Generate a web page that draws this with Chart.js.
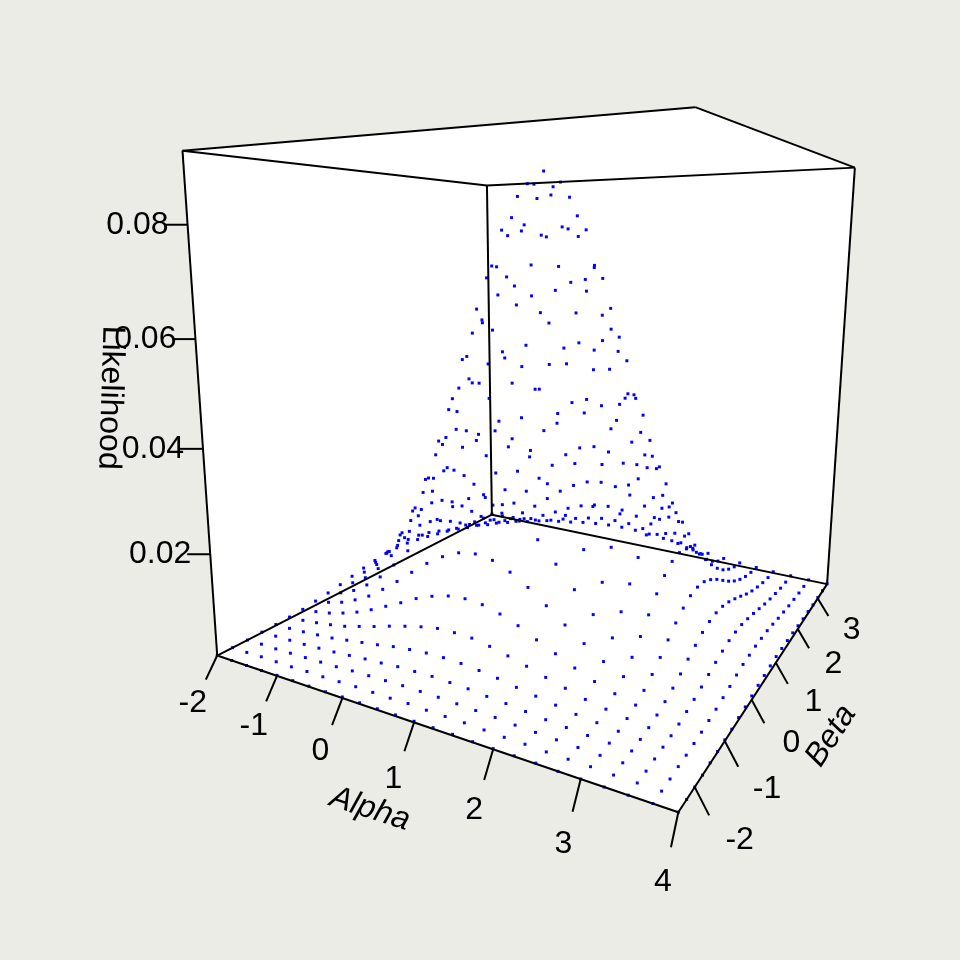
<!DOCTYPE html>
<html>
<head>
<meta charset="utf-8">
<script src="https://cdn.jsdelivr.net/npm/chart.js@4/dist/chart.umd.min.js"></script>
<style>
  html, body { margin: 0; padding: 0; background: #ECECE6; }
  #box { width: 960px; height: 960px; }
</style>
</head>
<body>
<div id="box"><canvas id="grafica" width="960" height="960"></canvas></div>
<script>
// grid of the surface
const alphaValues = [-2, -1.75, -1.5, -1.25, -1, -0.75, -0.5, -0.25, 0, 0.25, 0.5, 0.75, 1,
    1.25, 1.5, 1.75, 2, 2.25, 2.5, 2.75, 3, 3.25, 3.5, 3.75, 4];
const betaValues = [-2.5, -2.25, -2, -1.75, -1.5, -1.25, -1, -0.75, -0.5, -0.25, 0, 0.25, 0.5,
    0.75, 1, 1.25, 1.5, 1.75, 2, 2.25, 2.5, 2.75, 3, 3.25, 3.5];
// likelihood x 10^4, one row per alpha, one column per beta
const likelihoodE4 = [
    [0,0,0,1,2,3,5,9,13,18,24,30,35,39,40,39,35,30,24,18,13,9,5,3,2],
    [0,0,1,2,3,5,9,15,22,31,42,52,61,67,69,67,61,52,42,31,22,15,9,5,3],
    [0,1,1,3,5,9,15,24,36,51,68,85,99,109,112,109,99,85,68,51,36,24,15,9,5],
    [0,1,2,4,8,14,24,38,57,80,106,132,154,169,174,169,154,132,106,80,57,38,24,14,8],
    [1,1,3,6,11,20,35,55,83,117,156,194,226,249,257,249,226,194,156,117,83,55,35,20,11],
    [1,2,4,8,16,29,49,78,117,164,218,271,317,348,359,348,317,271,218,164,117,78,49,29,16],
    [1,2,5,11,21,38,65,103,155,218,289,360,421,462,477,462,421,360,289,218,155,103,65,38,21],
    [1,3,7,14,26,48,81,130,195,276,365,454,531,583,602,583,531,454,365,276,195,130,81,48,26],
    [2,4,8,16,32,57,98,156,234,330,437,544,637,699,721,699,637,544,437,330,234,156,98,57,32],
    [2,4,9,19,36,65,111,177,266,376,498,619,724,795,821,795,724,619,498,376,266,177,111,65,36],
    [2,4,10,20,39,71,120,192,288,406,538,669,783,860,887,860,783,669,538,406,288,192,120,71,39],
    [2,5,10,21,40,72,123,197,296,417,552,687,803,882,910,882,803,687,552,417,296,197,123,72,40],
    [2,4,10,20,39,71,120,192,288,406,538,669,783,860,887,860,783,669,538,406,288,192,120,71,39],
    [2,4,9,19,36,65,111,177,266,376,498,619,724,795,821,795,724,619,498,376,266,177,111,65,36],
    [2,4,8,16,32,57,98,156,234,330,437,544,637,699,721,699,637,544,437,330,234,156,98,57,32],
    [1,3,7,14,26,48,81,130,195,276,365,454,531,583,602,583,531,454,365,276,195,130,81,48,26],
    [1,2,5,11,21,38,65,103,155,218,289,360,421,462,477,462,421,360,289,218,155,103,65,38,21],
    [1,2,4,8,16,29,49,78,117,164,218,271,317,348,359,348,317,271,218,164,117,78,49,29,16],
    [1,1,3,6,11,20,35,55,83,117,156,194,226,249,257,249,226,194,156,117,83,55,35,20,11],
    [0,1,2,4,8,14,24,38,57,80,106,132,154,169,174,169,154,132,106,80,57,38,24,14,8],
    [0,1,1,3,5,9,15,24,36,51,68,85,99,109,112,109,99,85,68,51,36,24,15,9,5],
    [0,0,1,2,3,5,9,15,22,31,42,52,61,67,69,67,61,52,42,31,22,15,9,5,3],
    [0,0,0,1,2,3,5,9,13,18,24,30,35,39,40,39,35,30,24,18,13,9,5,3,2],
    [0,0,0,1,1,2,3,5,7,10,13,17,20,21,22,21,20,17,13,10,7,5,3,2,1],
    [0,0,0,0,1,1,2,2,4,5,7,9,10,11,12,11,10,9,7,5,4,2,2,1,1]
];
const alphaTicks = [-2, -1, 0, 1, 2, 3, 4];
const betaTicks = [-2, -1, 0, 1, 2, 3];
const zTicks = [0.02, 0.04, 0.06, 0.08];

const alphaRange = [-2, 4];
const betaRange = [-2.5, 3.5];
const zRange = [0, 0.0925];

// view of the box: screen position of its eight corners [alpha][beta][z]
const corners = {
    '000': [215, 657], '100': [680, 815], '110': [830, 585], '010': [492, 515],
    '001': [180, 148], '101': [697, 104], '111': [858, 165], '011': [487, 183]
};
// perspective depth factors along each axis
const depthA = 0.745, depthB = 1.36, depthZ = 0.91;

function proj(a, b, z) {
    const u = (a - alphaRange[0]) / (alphaRange[1] - alphaRange[0]);
    const v = (b - betaRange[0]) / (betaRange[1] - betaRange[0]);
    const w = (z - zRange[0]) / (zRange[1] - zRange[0]);
    let x = 0, y = 0, s = 0;
    for (const k in corners) {
        const h = (k[0] === '1' ? depthA : 1) * (k[1] === '1' ? depthB : 1) * (k[2] === '1' ? depthZ : 1);
        const wt = h * (k[0] === '1' ? u : 1 - u) * (k[1] === '1' ? v : 1 - v) * (k[2] === '1' ? w : 1 - w);
        x += wt * corners[k][0];
        y += wt * corners[k][1];
        s += wt;
    }
    return { x: x / s, y: y / s };
}

const A0 = alphaRange[0], A1 = alphaRange[1], B0 = betaRange[0], B1 = betaRange[1], Z0 = zRange[0], Z1 = zRange[1];

const puntos = [];
alphaValues.forEach((a, i) => {
    betaValues.forEach((b, j) => {
        puntos.push(proj(a, b, likelihoodE4[i][j] / 10000));
    });
});

const aristas = [
    [[A0, B0, Z1], [A1, B0, Z1]], [[A1, B0, Z1], [A1, B1, Z1]], [[A1, B1, Z1], [A0, B1, Z1]], [[A0, B1, Z1], [A0, B0, Z1]],
    [[A0, B0, Z0], [A0, B0, Z1]], [[A0, B1, Z0], [A0, B1, Z1]], [[A1, B1, Z0], [A1, B1, Z1]],
    [[A0, B0, Z0], [A1, B0, Z0]], [[A1, B0, Z0], [A1, B1, Z0]], [[A0, B1, Z0], [A1, B1, Z0]], [[A0, B0, Z0], [A0, B1, Z0]]
];

const datasets = [];
aristas.forEach(e => datasets.push({
    data: e.map(p => proj(p[0], p[1], p[2])), showLine: true, borderColor: '#000', borderWidth: 2,
    pointRadius: 0, fill: false
}));
alphaTicks.forEach(a => datasets.push({
    data: [proj(a, B0, Z0), proj(a, B0 - 0.2, Z0 - 0.0035)], showLine: true, borderColor: '#000',
    borderWidth: 2, pointRadius: 0
}));
betaTicks.forEach(b => datasets.push({
    data: [proj(A1, b, Z0), proj(A1 + 0.15, b, Z0 - 0.0035)], showLine: true, borderColor: '#000',
    borderWidth: 2, pointRadius: 0
}));
datasets.push({
    data: puntos, showLine: false, pointStyle: 'rect', pointRadius: 2.1,
    backgroundColor: '#0000ff', borderWidth: 0
});

const fuente = '32px "Liberation Sans", Arial, sans-serif';

const fondoCaja = {
    id: 'fondoCaja',
    beforeDatasetsDraw(chart) {
        const ctx = chart.ctx, sx = chart.scales.x, sy = chart.scales.y;
        const hull = [[A0, B0, Z1], [A1, B0, Z1], [A1, B1, Z1], [A1, B1, Z0], [A1, B0, Z0], [A0, B0, Z0]];
        ctx.save();
        ctx.beginPath();
        hull.forEach((p, i) => {
            const q = proj(p[0], p[1], p[2]);
            const px = sx.getPixelForValue(q.x), py = sy.getPixelForValue(q.y);
            if (i === 0) ctx.moveTo(px, py); else ctx.lineTo(px, py);
        });
        ctx.closePath();
        ctx.fillStyle = '#ffffff';
        ctx.fill();
        ctx.restore();
    },
    afterDatasetsDraw(chart) {
        const ctx = chart.ctx, sx = chart.scales.x, sy = chart.scales.y;
        const px = q => [sx.getPixelForValue(q.x), sy.getPixelForValue(q.y)];
        ctx.save();
        ctx.fillStyle = '#000';
        ctx.font = fuente;
        ctx.textAlign = 'center';
        ctx.textBaseline = 'middle';
        alphaTicks.forEach(a => {
            const p = px(proj(a, B0 - 0.42, Z0 - 0.0066));
            ctx.fillText(String(a), p[0], p[1]);
        });
        betaTicks.forEach(b => {
            const p = px(proj(A1 + 0.45, b, Z0 - 0.0056));
            ctx.fillText(String(b), p[0], p[1]);
        });
        zTicks.forEach(z => {
            const p = px(proj(A0, B0, z));
            ctx.beginPath();
            ctx.moveTo(p[0], p[1]);
            ctx.lineTo(p[0] - 23, p[1]);
            ctx.lineWidth = 2;
            ctx.strokeStyle = '#000';
            ctx.stroke();
            ctx.textAlign = 'right';
            ctx.fillText(z.toFixed(2), p[0] - 19, p[1]);
        });
        ctx.textAlign = 'center';
        const titulo = (txt, q, ang, italic) => {
            const p = px(q);
            ctx.save();
            ctx.translate(p[0], p[1]);
            ctx.rotate(ang);
            ctx.font = (italic ? 'italic ' : '') + fuente;
            ctx.fillText(txt, 0, 0);
            ctx.restore();
        };
        titulo('Alpha', { x: 369, y: 812 }, 18 * Math.PI / 180, true);
        titulo('Beta', { x: 834, y: 738 }, -57 * Math.PI / 180, true);
        titulo('Likelihood', { x: 107, y: 397 }, Math.PI / 2 + 0.03, false);
        ctx.restore();
    }
};

new Chart(document.getElementById('grafica').getContext('2d'), {
    type: 'scatter',
    data: { datasets: datasets },
    options: {
        responsive: false,
        animation: false,
        layout: { padding: 0 },
        plugins: { legend: { display: false }, tooltip: { enabled: false } },
        scales: {
            x: { type: 'linear', min: 0, max: 960, display: false },
            y: { type: 'linear', min: 0, max: 960, reverse: true, display: false }
        }
    },
    plugins: [fondoCaja]
});
</script>
</body>
</html>
